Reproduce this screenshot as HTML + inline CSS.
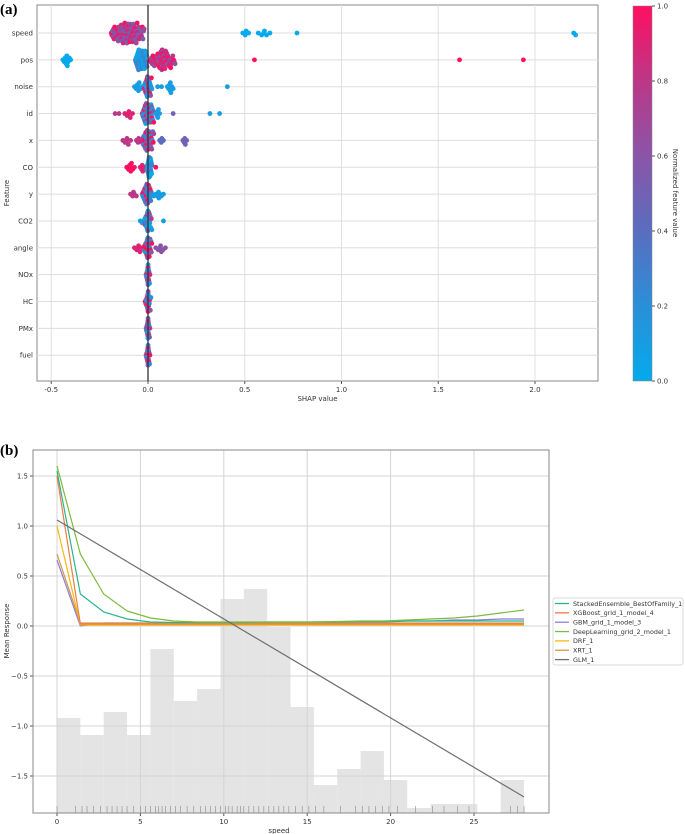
<!DOCTYPE html>
<html><head><meta charset="utf-8">
<style>
body{margin:0;background:#fff;}
svg{display:block;font-family:"DejaVu Sans","Liberation Sans",sans-serif;}
.tk{font-size:7px;fill:#333;}
.lg{font-size:6.4px;fill:#333;}
</style></head>
<body>
<svg id="chart" width="685" height="834" viewBox="0 0 685 834" xmlns="http://www.w3.org/2000/svg">
<defs>
<linearGradient id="cbg" x1="0" y1="1" x2="0" y2="0">
<stop offset="0" stop-color="#04aaeb"/><stop offset="0.2" stop-color="#2a8fd8"/><stop offset="0.4" stop-color="#5a6dbf"/><stop offset="0.6" stop-color="#8a55a8"/><stop offset="0.8" stop-color="#bb3787"/><stop offset="1" stop-color="#ff0f60"/>
</linearGradient>
</defs>
<g id="pa"></g>
<g id="pb"></g>
<text x="0" y="14" font-family="Liberation Serif,serif" font-weight="bold" font-size="15">(a)</text>
<text x="0" y="455" font-family="Liberation Serif,serif" font-weight="bold" font-size="15">(b)</text>
</svg>
<script>
const NS="http://www.w3.org/2000/svg";
function mk(p,t,a){const e=document.createElementNS(NS,t);for(const k in a)e.setAttribute(k,a[k]);p.appendChild(e);return e;}
// ---------- Panel A data ----------
const features=["speed","pos","noise","id","x","CO","y","CO2","angle","NOx","HC","PMx","fuel"];
const shapTicks=[-0.5,0.0,0.5,1.0,1.5,2.0];
const cbTicks=[0.0,0.2,0.4,0.6,0.8,1.0];
// clusters per feature: [lo, hi, count, colors...]
const clusters=[
 [[-0.19,-0.02,95,0.9,0.6,1,0.7,0.5],[0.49,0.52,4,0],[0.57,0.63,6,0],[0.77,0.77,1,0],[2.2,2.21,2,0]],
 [[-0.44,-0.40,10,0],[-0.065,-0.005,50,0.1,0.2,0,0.3],[0.01,0.14,55,1,0.8,0.6,0.9],[0.55,0.55,1,1],[1.61,1.61,1,1],[1.94,1.94,1,1]],
 [[-0.07,-0.03,8,0.1],[-0.02,0.02,30,1,0.2,0.6,0.1],[0.05,0.07,2,0.1],[0.1,0.13,8,0.1],[0.41,0.41,1,0.1]],
 [[-0.17,-0.15,2,0.8],[-0.12,-0.08,6,0.9],[-0.03,0.03,45,1,0.6,0.2,0.1],[0.04,0.06,6,0.1],[0.13,0.13,1,0.5],[0.32,0.32,1,0.1],[0.37,0.37,1,0.1]],
 [[-0.13,-0.09,6,0.8],[-0.06,-0.04,4,0.8],[-0.03,0.03,38,1,0.5,0.2,0.7],[0.06,0.08,4,0.4],[0.18,0.2,5,0.5]],
 [[-0.11,-0.07,8,1],[-0.04,-0.02,5,0.9],[-0.005,0.02,30,0.1,0,0.3],[0.04,0.04,1,1]],
 [[-0.09,-0.06,5,0.8],[-0.03,0.02,30,0.6,0.3,1,0.2],[0.03,0.08,8,0.1]],
 [[-0.04,-0.03,2,0.1],[-0.02,0.02,24,0.3,0.1,0.8,0],[0.08,0.08,1,0.1]],
 [[-0.07,-0.03,6,0.9],[-0.02,0.02,26,0.6,1,0.2],[0.04,0.09,7,0.6]],
 [[-0.01,0.01,18,0.5,0.1,0.9]],
 [[-0.015,0.015,18,1,0.6,0.2]],
 [[-0.01,0.01,18,0.1,0.5,0.8]],
 [[-0.01,0.01,18,0.6,0.2,1]]
];
// ---------- Panel B data ----------
const speedTicks=[0,5,10,15,20,25];
const respTicks=[-1.5,-1.0,-0.5,0.0,0.5,1.0,1.5];
const binWidth=1.4;
const histTops=[-0.92,-1.09,-0.86,-1.09,-0.23,-0.75,-0.63,0.27,0.37,-0.01,-0.81,-1.59,-1.43,-1.25,-1.54,-1.82,-1.78,-1.78,-1.87,-1.54];
const gridX=[0,1.4,2.8,4.2,5.6,7,8.4,9.8,11.2,12.6,14,15.4,16.8,18.2,19.6,21,22.4,23.8,25.2,26.6,28];
const modelNames=["StackedEnsemble_BestOfFamily_1","XGBoost_grid_1_model_4","GBM_grid_1_model_3","DeepLearning_grid_2_model_1","DRF_1","XRT_1","GLM_1"];
const modelColors=["#2bb48c","#ef7b45","#8a7fd6","#7cbb3c","#f6b80b","#d09a4c","#6e6e6e"];
const sStacked=[1.55,0.32,0.14,0.07,0.04,0.035,0.035,0.035,0.035,0.04,0.04,0.04,0.04,0.045,0.045,0.05,0.05,0.05,0.05,0.05,0.05];
const sXGB=[1.5,0.02,0.02,0.02,0.02,0.02,0.02,0.02,0.02,0.02,0.02,0.02,0.02,0.02,0.02,0.02,0.02,0.02,0.02,0.02,0.02];
const sGBM=[0.66,0.0,0.03,0.03,0.03,0.03,0.03,0.03,0.03,0.03,0.03,0.04,0.04,0.04,0.04,0.05,0.05,0.06,0.06,0.07,0.07];
const sDL=[1.6,0.72,0.32,0.15,0.08,0.05,0.04,0.04,0.04,0.04,0.04,0.04,0.045,0.05,0.05,0.06,0.07,0.08,0.1,0.13,0.16];
const sDRF=[1.0,0.01,0.01,0.01,0.01,0.01,0.01,0.01,0.01,0.01,0.01,0.01,0.01,0.01,0.01,0.01,0.01,0.01,0.01,0.01,0.01];
const sXRT=[0.72,0.03,0.03,0.03,0.03,0.03,0.03,0.03,0.03,0.03,0.03,0.03,0.03,0.03,0.03,0.03,0.03,0.03,0.03,0.03,0.03];
const sGLM=[1.06,-1.71];
const glmX=[0,28];
const rugX=[0,1.1,1.5,1.8,2.2,2.6,3,3.3,3.6,3.9,4.2,4.6,5,5.3,5.6,5.9,6.1,6.3,6.5,6.8,7.1,7.4,7.8,8.2,8.6,8.9,9.2,9.5,9.8,10.1,10.3,10.5,10.8,11,11.2,11.5,11.8,12.1,12.4,12.7,13,13.3,13.6,13.9,14.3,14.7,15.1,15.5,16,17,17.9,18.3,18.7,19.1,19.5,19.9,20.4,21.5,22.5,23.2,24,24.7,27.2,27.6,28];

// ---------- Draw Panel A ----------
(function(){
const g=document.getElementById('pa');
const L=37,R=598,T=5,B=381;
const xs=v=>148+v*193.5, rowY=i=>33+i*26.85;
const col=c=>{const stops=[[4,170,235],[42,143,216],[90,109,191],[138,85,168],[187,55,135],[255,15,96]];const p=c*5,i=Math.min(4,Math.floor(p)),f=p-i;const a=stops[i],b=stops[i+1];return `rgb(${a.map((v,k)=>Math.round(v+(b[k]-v)*f)).join(',')})`;};
mk(g,'rect',{x:L,y:T,width:R-L,height:B-T,fill:'#fff',stroke:'#888','stroke-width':1});
shapTicks.forEach(t=>{const x=xs(t);const l=mk(g,'line',{x1:x,x2:x,y1:T,y2:B,stroke:'#e0e0e0'});
 mk(g,'line',{x1:x,x2:x,y1:B,y2:B+3,stroke:'#555'});
 const tx=mk(g,'text',{x:x,y:B+11,'text-anchor':'middle',class:'tk'});tx.textContent=t.toFixed(1);});
features.forEach((f,i)=>{const y=rowY(i);mk(g,'line',{x1:L,x2:R,y1:y,y2:y,stroke:'#ddd'});
 const tx=mk(g,'text',{x:L-4,y:y+2.5,'text-anchor':'end',class:'tk'});tx.textContent=f;
 const pts=[];clusters[i].forEach(c=>{const [lo,hi,n,...cs]=c;for(let k=0;k<n;k++){let u=n>1?k/(n-1):0.5;const w=2*(u-0.5);u=0.5+0.5*Math.sign(w)*Math.pow(Math.abs(w),1.7);const v=lo+(hi-lo)*u;pts.push([v,cs[(k*7)%cs.length]]);}});
 pts.sort((a,b)=>a[0]-b[0]);const placed=[];const r=2.4,d=2.0;
 pts.forEach((p,idx)=>{const x=xs(p[0]);let off=null;for(let s=0;s<14;s++){const o=(s%2?1:-1)*Math.ceil(s/2)*d;if(Math.abs(o)>10.5)break;if(!placed.some(q=>Math.abs(q[0]-x)<3.6&&Math.abs(q[1]-o)<d*0.95)){off=o;break;}}
  if(off===null)off=((idx*5)%9-4)*2.2;
  placed.push([x,off]);const c=mk(g,'circle',{cx:x,cy:y+off,r:r,fill:col(p[1])});});
});
mk(g,'line',{x1:xs(0),x2:xs(0),y1:T,y2:B,stroke:'#333','stroke-width':1.3});
let t=mk(g,'text',{x:(L+R)/2,y:B+20,'text-anchor':'middle',class:'tk'});t.textContent='SHAP value';
t=mk(g,'text',{x:9,y:(T+B)/2,'text-anchor':'middle',class:'tk',transform:`rotate(-90 9 ${(T+B)/2})`});t.textContent='Feature';
const cb=mk(g,'rect',{x:633,y:T+1,width:19,height:B-T-1,fill:'url(#cbg)',stroke:'#888','stroke-width':0.5});
cbTicks.forEach(v=>{const y=B-(B-T-1)*v;mk(g,'line',{x1:652,x2:655,y1:y,y2:y,stroke:'#555'});const tx=mk(g,'text',{x:657,y:y+2.5,class:'tk'});tx.textContent=v.toFixed(1);});
t=mk(g,'text',{x:673,y:(T+B)/2,'text-anchor':'middle',class:'tk',transform:`rotate(90 673 ${(T+B)/2})`});t.textContent='Normalized feature value';
})();

// ---------- Draw Panel B ----------
(function(){
const g=document.getElementById('pb');
const L=33,R=549,T=450,B=813;
const xs=v=>57+v*16.68, ys=v=>626-v*100;
mk(g,'rect',{x:L,y:T,width:R-L,height:B-T,fill:'#fff'});
histTops.forEach((h,i)=>{if(h<=-1.86)return;const x0=xs(i*binWidth),x1=xs((i+1)*binWidth);const r=mk(g,'rect',{x:x0,y:ys(h),width:x1-x0,height:B-ys(h),fill:'#e4e4e4'});});
speedTicks.forEach(v=>{const x=xs(v);mk(g,'line',{x1:x,x2:x,y1:T,y2:B,stroke:'#d4d4d4'});mk(g,'line',{x1:x,x2:x,y1:B,y2:B+3,stroke:'#555'});const tx=mk(g,'text',{x:x,y:B+11,'text-anchor':'middle',class:'tk'});tx.textContent=v;});
respTicks.forEach(v=>{const y=ys(v);mk(g,'line',{x1:L,x2:R,y1:y,y2:y,stroke:'#d4d4d4'});mk(g,'line',{x1:L-3,x2:L,y1:y,y2:y,stroke:'#555'});const tx=mk(g,'text',{x:L-5,y:y+2.5,'text-anchor':'end',class:'tk'});tx.textContent=v.toFixed(1).replace('-','\u2212');});
rugX.forEach(v=>{const l=mk(g,'line',{x1:xs(v),x2:xs(v),y1:B-7,y2:B,stroke:'#888','stroke-width':0.6});});
const series=[sStacked,sXGB,sGBM,sDL,sDRF,sXRT];
const order=[2,5,4,1,0,3];
order.forEach(i=>{const s=series[i];const p=mk(g,'polyline',{points:s.map((v,k)=>xs(gridX[k])+','+ys(v)).join(' '),fill:'none',stroke:modelColors[i],'stroke-width':1.2});});
const gl=mk(g,'polyline',{points:sGLM.map((v,k)=>xs(glmX[k])+','+ys(v)).join(' '),fill:'none',stroke:modelColors[6],'stroke-width':1.2});
mk(g,'rect',{x:L,y:T,width:R-L,height:B-T,fill:'none',stroke:'#888','stroke-width':1});
let t=mk(g,'text',{x:(L+R)/2-12,y:B+20,'text-anchor':'middle',class:'tk'});t.textContent='speed';
t=mk(g,'text',{x:9,y:631,'text-anchor':'middle',class:'tk',transform:'rotate(-90 9 631)'});t.textContent='Mean Response';
const lg=mk(g,'g',{});
mk(lg,'rect',{x:553,y:598,width:130,height:67,fill:'#fff',stroke:'#ccc','stroke-width':0.7,rx:2});
modelNames.forEach((n,i)=>{const y=603.5+i*9.35;mk(lg,'line',{x1:555,x2:569,y1:y,y2:y,stroke:modelColors[i],'stroke-width':1.3});const tx=mk(lg,'text',{x:573,y:y+2.3,class:'lg'});tx.textContent=n;});
})();
</script>
</body></html>
